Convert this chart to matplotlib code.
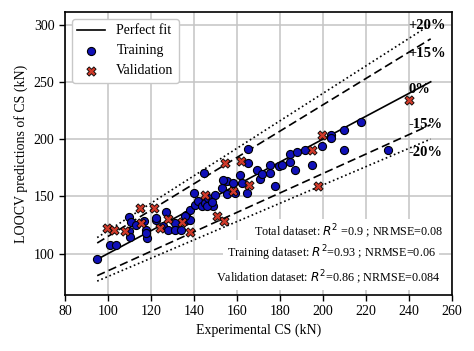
import numpy as np
import matplotlib
matplotlib.use('Agg')
import matplotlib.pyplot as plt

plt.rcParams['font.family'] = ['Liberation Serif', 'DejaVu Serif']
plt.rcParams['mathtext.fontset'] = 'dejavusans'

# Training points (experimental, predicted)
train_x = [95.0, 100.8, 103.9, 109.8, 110.9, 113.2, 109.8, 110.1, 116.8, 117.9,
           118.3, 122.5, 127.2, 125.6, 128.0, 131.1, 131.1, 133.9, 135.8, 136.5,
           138.1, 138.1, 140.1, 140.4, 142.0, 143.5, 145.1, 146.6, 147.4, 149.0,
           144.8, 149.7, 152.8, 155.2, 155.2, 158.3, 159.1, 161.6, 162.2, 164.5,
           165.3, 165.0, 169.2, 170.7, 171.5, 175.4, 175.4, 177.7, 179.3, 180.8,
           184.7, 184.7, 187.1, 187.8, 191.7, 194.8, 199.5, 203.8, 203.8, 209.9,
           217.4, 209.9, 230.3, 117.5, 122.5, 135.7, 145.9, 148.2, 153.6]
train_y = [95.3, 107.9, 107.9, 131.7, 127.4, 125.3, 119.5, 114.6, 128.2, 121.0,
           113.7, 129.7, 136.1, 123.9, 121.0, 126.8, 121.0, 121.0, 128.2, 134.1,
           138.4, 129.7, 153.0, 142.8, 145.7, 141.3, 144.3, 148.6, 142.8, 141.3,
           170.0, 151.0, 157.4, 163.5, 152.0, 161.7, 153.0, 169.0, 161.7, 153.0,
           179.2, 191.0, 172.8, 165.2, 169.9, 177.7, 170.5, 158.8, 176.9, 177.7,
           179.8, 187.1, 173.4, 188.5, 190.5, 177.7, 193.7, 203.9, 200.5, 208.3,
           214.7, 190.8, 190.8, 118.0, 131.0, 133.2, 141.3, 144.8, 164.0]

# Validation points
val_x = [99.7, 102.8, 107.8, 114.8, 121.4, 115.5, 124.1, 128.0, 134.5, 138.1,
         145.1, 150.5, 154.1, 154.6, 161.8, 158.3, 165.7, 194.8, 199.5, 197.5,
         239.9]
val_y = [122.4, 121.0, 120.1, 139.9, 139.9, 126.8, 122.4, 130.3, 127.4, 118.6,
         151.5, 132.6, 128.8, 178.8, 180.6, 155.0, 160.3, 190.5, 203.9, 159.4,
         234.5]

fit_range = [95, 250]
bands = ['+20%', '+15%', '0%', '-15%', '-20%']
band_y = [299, 275, 243, 213, 188]

fig = plt.figure(figsize=(4.74, 3.51), dpi=100)
ax = fig.add_axes([0.137, 0.160, 0.817, 0.806])

xs = np.array(fit_range, dtype=float)
dash = (0, (5, 2.5))
ax.plot(xs, xs, color='black', lw=1.2, label='Perfect fit', zorder=2)
ax.plot(xs, 1.15 * xs, color='black', lw=1.2, ls=dash, zorder=2)
ax.plot(xs, 0.85 * xs, color='black', lw=1.2, ls=dash, zorder=2)
ax.plot(xs, 1.2 * xs, color='black', lw=1.2, ls=':', zorder=2)
ax.plot(xs, 0.8 * xs, color='black', lw=1.2, ls=':', zorder=2)

ax.scatter(train_x, train_y, s=34, c='#1010b8', edgecolors='black',
           linewidths=0.8, label='Training', zorder=3)
ax.scatter(val_x, val_y, s=44, marker='X', c='#cf3a2a', edgecolors='black',
           linewidths=0.6, label='Validation', zorder=4)

for lab, yy in zip(bands, band_y):
    ax.text(239.5, yy, lab, fontsize=10.5, fontweight='bold', va='center',
            ha='left', zorder=5)

bb = dict(facecolor='white', edgecolor='none', pad=2.5)
ax.text(167.9, 119.2, 'Total dataset: $R^2$ =0.9 ; NRMSE=0.08', fontsize=8.7,
        va='center', ha='left', bbox=bb, zorder=5)
ax.text(155.3, 100, 'Training dataset: $R^2$=0.93 ; NRMSE=0.06', fontsize=8.7,
        va='center', ha='left', bbox=bb, zorder=5)
ax.text(150.2, 79, 'Validation dataset: $R^2$=0.86 ; NRMSE=0.084', fontsize=8.7,
        va='center', ha='left', bbox=bb, zorder=5)

ax.set_xlim(80, 260)
ax.set_ylim(64, 311)
ax.set_xticks(np.arange(80, 261, 20))
ax.set_yticks(np.arange(100, 301, 50))
ax.grid(True, color='#c4c4c4', lw=1.1)
ax.set_axisbelow(True)
ax.tick_params(labelsize=10, length=4, width=1)
for sp in ax.spines.values():
    sp.set_linewidth(1.2)

ax.set_xlabel('Experimental CS (kN)', fontsize=10)
ax.set_ylabel('LOOCV predictions of CS (kN)', fontsize=10)

leg = ax.legend(loc='upper left', fontsize=10, framealpha=1,
                edgecolor='#c8c8c8', borderaxespad=0.5)

plt.savefig('out.png', dpi=100)
